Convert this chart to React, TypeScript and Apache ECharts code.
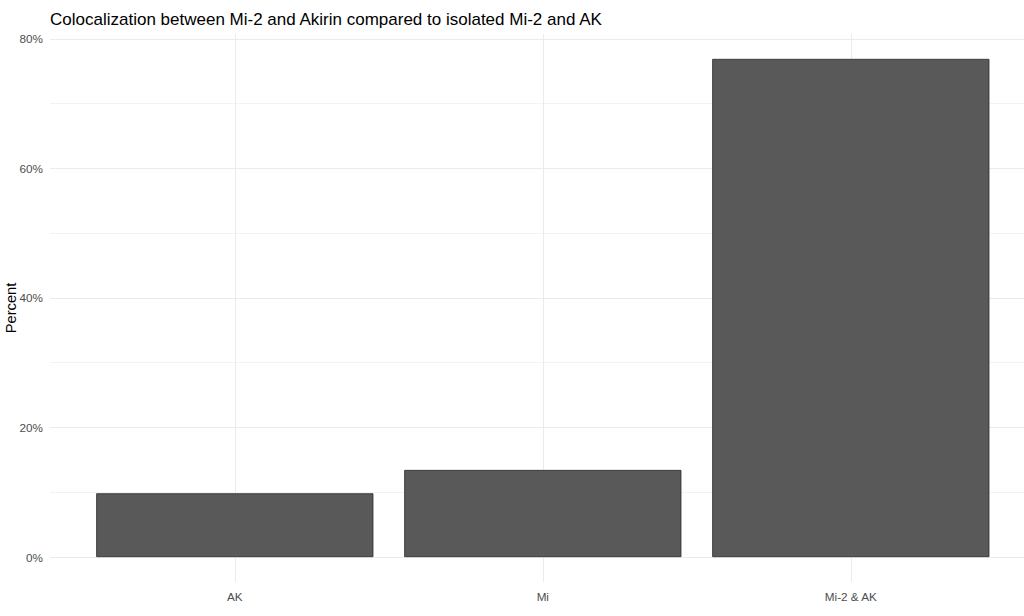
import { useRef, useEffect } from 'react'
import * as echarts from 'echarts'

const categories = ['AK', 'Mi', 'Mi-2 & AK']
const percents = [9.85, 13.45, 76.9]
const yTicks = [0, 20, 40, 60, 80]

const TITLE = 'Colocalization between Mi-2 and Akirin compared to isolated Mi-2 and AK'
const FONT = '"Liberation Sans", Arial, sans-serif'
const GRID_COLOR = '#EBEBEB'
const BAR_COLOR = '#595959'

// ggplot-like panel geometry
const W = 1024
const H = 616
const PANEL_LEFT = 50
const PANEL_TOP = 34
const PANEL_BOTTOM = 582
const UNIT = 308 // px per discrete x unit

export default function App() {
  const chartRef = useRef<HTMLDivElement>(null)

  useEffect(() => {
    if (!chartRef.current) return
    const chart = echarts.init(chartRef.current, undefined, { renderer: 'svg' })

    // y expansion like ggplot (5% each side)
    const maxV = Math.max(...percents)
    const lo = -0.05 * maxV
    const hi = 1.05 * maxV
    const panelH = PANEL_BOTTOM - PANEL_TOP
    const yPx = (v: number) => PANEL_BOTTOM - ((v - lo) / (hi - lo)) * panelH
    const tickMin = yTicks[0]
    const tickMax = yTicks[yTicks.length - 1]

    const panelRight = PANEL_LEFT + UNIT * (categories.length + 0.2)
    const firstCenter = PANEL_LEFT + UNIT * 0.6
    const lastCenter = PANEL_LEFT + UNIT * (categories.length - 0.4)

    const axisText = { color: '#4D4D4D', fontSize: 11.7, fontFamily: FONT }

    const option: echarts.EChartsOption = {
      animation: false,
      backgroundColor: '#fff',
      title: {
        text: TITLE,
        left: PANEL_LEFT - 5,
        top: 6,
        textStyle: { color: '#000', fontSize: 17, fontWeight: 'normal', fontFamily: FONT },
      },
      grid: [
        {
          left: PANEL_LEFT,
          right: W - panelRight,
          top: yPx(tickMax),
          bottom: H - yPx(tickMin),
          containLabel: false,
          outerBoundsMode: 'none',
        },
        {
          left: firstCenter,
          right: W - lastCenter,
          top: PANEL_TOP,
          bottom: H - PANEL_BOTTOM,
          containLabel: false,
          outerBoundsMode: 'none',
        },
      ],
      xAxis: [
        { gridIndex: 0, type: 'value', min: 0, max: 1, show: false },
        {
          gridIndex: 1,
          type: 'category',
          data: categories,
          boundaryGap: false,
          axisLine: { show: false },
          axisTick: { show: false },
          axisLabel: { ...axisText, margin: 8 },
          splitLine: { show: true, lineStyle: { color: GRID_COLOR, width: 1 } },
        },
      ],
      yAxis: [
        {
          gridIndex: 0,
          type: 'value',
          min: tickMin,
          max: tickMax,
          interval: 20,
          axisLine: { show: false },
          axisTick: { show: false },
          axisLabel: { ...axisText, margin: 7, formatter: (v: number) => `${v}%` },
          splitLine: { show: true, lineStyle: { color: GRID_COLOR, width: 1 } },
          minorTick: { show: false, splitNumber: 2 },
          minorSplitLine: { show: true, lineStyle: { color: GRID_COLOR, width: 0.6 } },
        },
        {
          gridIndex: 1,
          type: 'value',
          min: lo,
          max: hi,
          axisLine: { show: false },
          axisTick: { show: false },
          axisLabel: { show: false },
          splitLine: { show: false },
          name: 'Percent',
          nameLocation: 'middle',
          nameGap: firstCenter - 18,
          nameTextStyle: { color: '#000', fontSize: 14.7, fontFamily: FONT },
        },
      ],
      series: [
        {
          type: 'bar',
          xAxisIndex: 1,
          yAxisIndex: 1,
          data: percents,
          barWidth: UNIT * 0.9,
          clip: false,
          itemStyle: { color: BAR_COLOR, borderColor: '#2b2b2b', borderWidth: 0.8 },
        },
      ],
    }

    chart.setOption(option)
    return () => chart.dispose()
  }, [])

  return (
    <div
      ref={chartRef}
      style={{ position: 'fixed', left: 0, top: 0, width: W, height: H }}
    />
  )
}
